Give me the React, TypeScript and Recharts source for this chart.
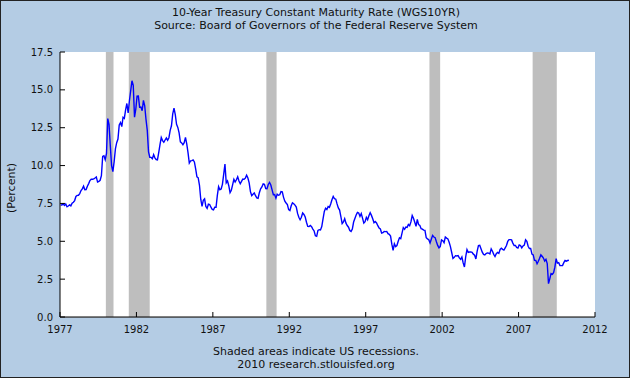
import React from 'react';
import {
  ComposedChart,
  Line,
  XAxis,
  YAxis,
  CartesianGrid,
  ReferenceArea
} from 'recharts';

// monthly 10-year rates (percent), Jan..Dec per row
const rates1977to1986 = [
  7.4, 7.4, 7.46, 7.37, 7.46, 7.28, 7.33, 7.4, 7.34, 7.52, 7.58, 7.69,
  7.96, 8.03, 8.04, 8.15, 8.35, 8.46, 8.64, 8.41, 8.42, 8.64, 8.81, 9.01,
  9.1, 9.1, 9.12, 9.18, 9.25, 8.91, 8.95, 9.03, 9.33, 10.6, 10.65, 10.39,
  10.8, 13.1, 12.7, 11.3, 10.0, 9.6, 10.25, 11.1, 11.51, 11.75, 12.68, 12.84,
  12.57, 13.19, 13.12, 13.68, 14.1, 13.47, 14.28, 14.94, 15.6, 15.3, 13.2, 13.72,
  14.59, 14.6, 13.86, 13.87, 13.62, 14.3, 13.95, 13.06, 12.34, 10.91, 10.55, 10.54,
  10.46, 10.72, 10.51, 10.4, 10.38, 10.85, 11.38, 11.85, 11.65, 11.54, 11.69, 11.83,
  11.67, 11.84, 12.32, 12.63, 13.41, 13.8, 13.36, 12.72, 12.52, 12.16, 11.57, 11.5,
  11.38, 11.51, 11.86, 11.43, 10.85, 10.16, 10.31, 10.33, 10.37, 10.24, 9.78, 9.26,
  9.19, 8.7, 7.78, 7.3, 7.71, 7.8, 7.3, 7.17, 7.45, 7.43, 7.25, 7.11
];
const rates1987to1996 = [
  7.08, 7.25, 7.25, 8.02, 8.61, 8.4, 8.45, 8.76, 9.42, 10.1, 8.86, 8.99,
  8.67, 8.21, 8.37, 8.72, 9.09, 8.92, 9.06, 9.26, 8.98, 8.8, 8.96, 9.11,
  9.09, 9.17, 9.36, 9.18, 8.86, 8.28, 8.02, 8.11, 8.19, 8.01, 7.87, 7.84,
  8.21, 8.47, 8.59, 8.79, 8.76, 8.48, 8.47, 8.75, 8.89, 8.72, 8.39, 8.08,
  8.09, 7.85, 8.11, 8.04, 8.07, 8.28, 8.27, 7.9, 7.65, 7.53, 7.42, 7.09,
  7.03, 7.34, 7.54, 7.48, 7.39, 7.26, 6.84, 6.59, 6.42, 6.59, 6.87, 6.77,
  6.6, 6.26, 5.98, 5.97, 6.04, 5.96, 5.81, 5.68, 5.36, 5.33, 5.72, 5.77,
  5.75, 5.97, 6.48, 6.97, 7.18, 7.1, 7.3, 7.24, 7.46, 7.74, 7.96, 7.81,
  7.78, 7.47, 7.2, 7.06, 6.63, 6.17, 6.28, 6.49, 6.2, 6.04, 5.93, 5.71,
  5.65, 5.81, 6.27, 6.51, 6.74, 6.91, 6.87, 6.64, 6.83, 6.53, 6.2, 6.3
];
const rates1997to2006 = [
  6.58, 6.42, 6.69, 6.89, 6.71, 6.49, 6.22, 6.3, 6.21, 6.03, 5.88, 5.81,
  5.54, 5.57, 5.65, 5.64, 5.65, 5.5, 5.46, 5.34, 4.81, 4.4, 4.83, 4.65,
  4.72, 5.0, 5.23, 5.18, 5.54, 5.9, 5.79, 5.94, 5.92, 6.11, 6.03, 6.28,
  6.7, 6.52, 6.26, 5.99, 6.44, 6.1, 6.05, 5.83, 5.8, 5.74, 5.72, 5.24,
  5.16, 5.1, 4.89, 5.14, 5.39, 5.28, 5.24, 4.97, 4.73, 4.57, 4.65, 5.09,
  5.04, 4.91, 5.28, 5.21, 5.16, 4.93, 4.65, 4.26, 3.87, 3.94, 4.05, 4.03,
  4.05, 3.9, 3.81, 3.96, 3.57, 3.3, 3.98, 4.45, 4.27, 4.29, 4.3, 4.27,
  4.15, 4.08, 3.83, 4.35, 4.72, 4.73, 4.5, 4.28, 4.13, 4.1, 4.19, 4.23,
  4.22, 4.17, 4.5, 4.34, 4.14, 4.0, 4.18, 4.26, 4.2, 4.46, 4.54, 4.47,
  4.42, 4.57, 4.72, 4.99, 5.11, 5.11, 5.09, 4.88, 4.72, 4.73, 4.6, 4.56
];
const rates2007to2010 = [
  4.76, 4.72, 4.56, 4.69, 4.75, 5.1, 5.0, 4.67, 4.52, 4.53, 4.15, 4.1,
  3.74, 3.74, 3.51, 3.68, 3.88, 4.1, 4.01, 3.89, 3.69, 3.81, 3.53, 2.2,
  2.52, 2.87, 2.82, 2.93, 3.29, 3.85, 3.56, 3.59, 3.4, 3.39, 3.4, 3.59,
  3.73, 3.69, 3.73, 3.75
];

const recessions = [
  { start: 1980.0, end: 1980.5 },
  { start: 1981.5, end: 1982.87 },
  { start: 1990.5, end: 1991.17 },
  { start: 2001.17, end: 2001.87 },
  { start: 2007.92, end: 2009.5 }
];

const xTicks = [1977, 1982, 1987, 1992, 1997, 2002, 2007, 2012];
const yTicks = [0, 2.5, 5, 7.5, 10, 12.5, 15, 17.5];
// no grid line along the top edge
const gridValues = yTicks.slice(0, -1);

const allRates = [...rates1977to1986, ...rates1987to1996, ...rates1997to2006, ...rates2007to2010];
const data = allRates.map((r, i) => ({ date: 1977 + (i + 0.5) / 12, rate: r }));

const font = '"DejaVu Sans", Verdana, sans-serif';
const textStyle: React.CSSProperties = {
  position: 'absolute',
  left: 0,
  width: 630,
  textAlign: 'center',
  fontFamily: font,
  fontSize: 11,
  color: '#111',
  lineHeight: '13px'
};

const App: React.FC = () => {
  return (
    <div
      style={{
        position: 'absolute',
        left: 0,
        top: 0,
        width: 630,
        height: 378,
        boxSizing: 'border-box',
        border: '1px solid #222',
        background: '#b4cce4'
      }}
    >
      <div style={{ ...textStyle, top: 5 }}>10-Year Treasury Constant Maturity Rate (WGS10YR)</div>
      <div style={{ ...textStyle, top: 18 }}>Source: Board of Governors of the Federal Reserve System</div>
      <div
        style={{
          position: 'absolute',
          left: 10,
          top: 187,
          transform: 'translate(-50%, -50%) rotate(-90deg)',
          fontFamily: font,
          fontSize: 11,
          color: '#111',
          whiteSpace: 'nowrap'
        }}
      >
        (Percent)
      </div>
      <div style={{ position: 'absolute', left: 0, top: 0 }}>
        <ComposedChart
          width={628}
          height={376}
          data={data}
          margin={{ top: 51, right: 34, bottom: 0, left: 0 }}
        >
          <rect x={59} y={51} width={535} height={265} fill="#ffffff" />
          <CartesianGrid
            vertical={false}
            stroke="#aaaaaa"
            strokeDasharray=""
            horizontalValues={gridValues}
          />
          {recessions.map((r) => (
            <ReferenceArea
              key={r.start}
              x1={r.start}
              x2={r.end}
              y1={0}
              y2={17.5}
              fill="#bebebe"
              fillOpacity={1}
              stroke="none"
              ifOverflow="hidden"
            />
          ))}
          <XAxis
            dataKey="date"
            type="number"
            domain={[1977, 2012]}
            ticks={xTicks}
            height={60}
            tickSize={-5}
            tickMargin={14}
            axisLine={{ stroke: '#000' }}
            tickLine={{ stroke: '#000' }}
            tick={{ fill: '#111', fontSize: 10, fontFamily: font }}
            allowDataOverflow
          />
          <YAxis
            type="number"
            domain={[0, 17.5]}
            ticks={yTicks}
            width={59}
            tickSize={-5}
            tickMargin={12}
            axisLine={{ stroke: '#000' }}
            tickLine={{ stroke: '#000' }}
            tick={{ fill: '#111', fontSize: 10, fontFamily: font }}
            tickFormatter={(v: number) => v.toFixed(1)}
          />
          <Line
            dataKey="rate"
            stroke="#0000ff"
            strokeWidth={1.4}
            dot={false}
            activeDot={false}
            isAnimationActive={false}
          />
        </ComposedChart>
      </div>
      <div style={{ ...textStyle, top: 344 }}>Shaded areas indicate US recessions.</div>
      <div style={{ ...textStyle, top: 357 }}>2010 research.stlouisfed.org</div>
    </div>
  );
};

export default App;
